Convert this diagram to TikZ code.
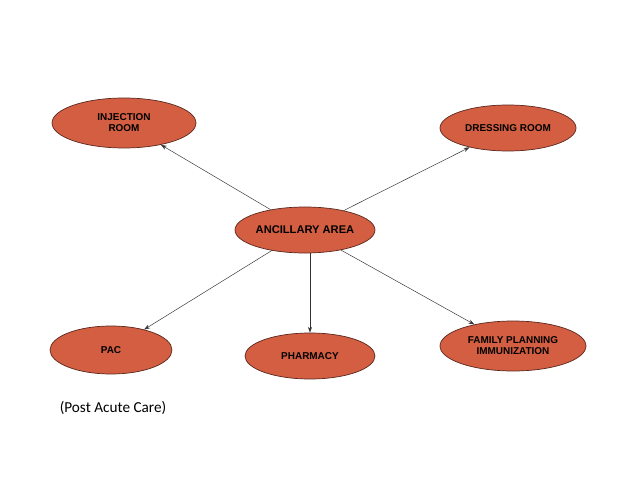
\documentclass[tikz,border=0pt]{standalone}
\usepackage{fontspec}
\setmainfont{Liberation Sans}
\newfontfamily\calfont{Carlito}
\usetikzlibrary{shapes.geometric,arrows.meta}
\definecolor{ovfill}{RGB}{211,94,66}
\definecolor{ovline}{RGB}{90,40,30}
\begin{document}
\begin{tikzpicture}[x=0.03cm,y=-0.03cm,
  ov/.style={ellipse,draw=ovline,fill=ovfill,line width=0.6pt,inner sep=0pt,
    font=\fontsize{8.5}{9.5}\selectfont\bfseries,align=center},
  ar/.style={-{Stealth[length=5pt,width=3.5pt]},line width=0.4pt,draw=black!80}]
\useasboundingbox (0,0) rectangle (638,478);
\node[ov,minimum width=4.32cm,minimum height=1.5cm] (inj) at (124,123) {INJECTION\\ROOM};
\node[ov,minimum width=4.08cm,minimum height=1.38cm] (dre) at (508,128) {DRESSING ROOM};
\node[ov,minimum width=4.2cm,minimum height=1.38cm,font=\fontsize{9.5}{10}\selectfont\bfseries] (anc) at (305,230) {ANCILLARY AREA};
\node[ov,minimum width=3.66cm,minimum height=1.44cm] (pac) at (111,350) {PAC};
\node[ov,minimum width=3.9cm,minimum height=1.38cm] (pha) at (310,356) {PHARMACY};
\node[ov,minimum width=4.38cm,minimum height=1.5cm] (fam) at (513,346) {FAMILY PLANNING\\IMMUNIZATION};
\node[font=\calfont\fontsize{13}{14}\selectfont] (post) at (113,408) {(Post Acute Care)};
\draw[ar] (anc) -- (inj);
\draw[ar] (anc) -- (dre);
\draw[ar] (anc) -- (pac);
\draw[ar] (anc.south -| pha.north) -- (pha);
\draw[ar] (anc) -- (fam);
\end{tikzpicture}
\end{document}
